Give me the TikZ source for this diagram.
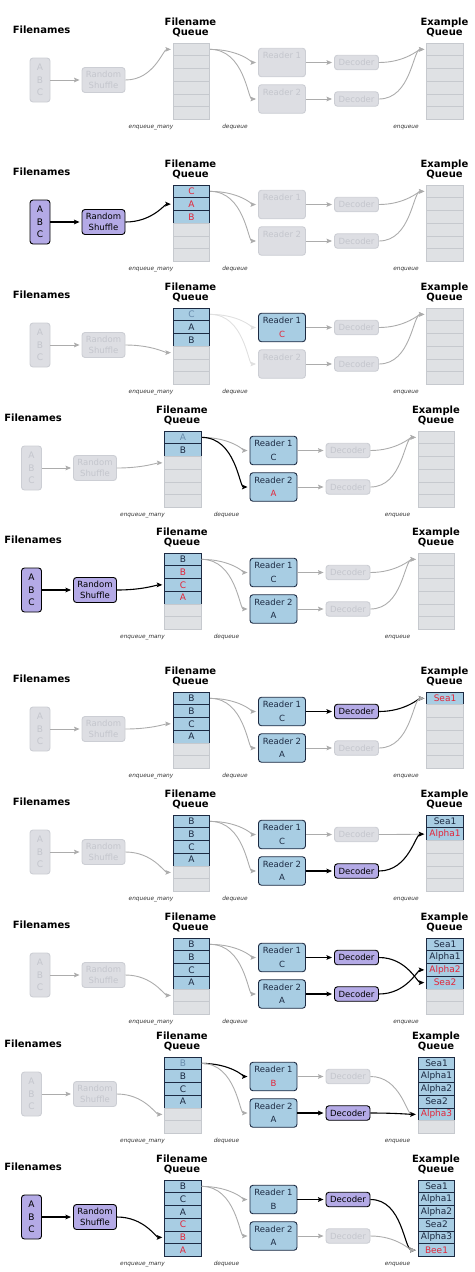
\documentclass[tikz,border=0pt]{standalone}
\usepackage{fontspec}
\setmainfont{DejaVu Sans}
\usetikzlibrary{arrows.meta}

\definecolor{lilacfill}{RGB}{180,170,230}
\definecolor{cellblue}{RGB}{168,205,227}
\definecolor{navy}{RGB}{28,42,66}
\definecolor{hot}{RGB}{226,38,58}
\definecolor{ghostfill}{RGB}{221,222,227}
\definecolor{ghostline}{RGB}{204,206,212}
\definecolor{ghosttext}{RGB}{196,198,205}
\definecolor{blankfill}{RGB}{223,225,228}
\definecolor{blankline}{RGB}{198,201,206}
\definecolor{dimgray}{RGB}{172,172,172}
\definecolor{palegray}{RGB}{224,224,224}
\definecolor{takentext}{RGB}{105,140,172}

\tikzset{
  pbox/.style={rounded corners=3pt, align=center, inner sep=0pt, line width=0.9pt},
  faded/.style={pbox, fill=ghostfill, draw=ghostline, text=ghosttext},
  lilac/.style={pbox, fill=lilacfill, draw=black, text=black},
  reading/.style={pbox, fill=cellblue, draw=navy, text=navy},
  fnbox/.style={minimum width=20pt, minimum height=44pt, font=\fontsize{9}{12.5}\selectfont},
  shufflebox/.style={minimum width=43pt, minimum height=25pt, font=\fontsize{8.5}{10.5}\selectfont},
  readerbox/.style={minimum width=47pt, minimum height=28.5pt, font=\fontsize{8.5}{13.5}\selectfont},
  decoderbox/.style={minimum width=44pt, minimum height=14.5pt, font=\fontsize{8.5}{10}\selectfont},
  % queue cells
  cell/.style={minimum width=36.5pt, minimum height=12.75pt, inner sep=0pt, font=\fontsize{9}{10}\selectfont},
  blank/.style={fill=blankfill, draw=blankline, line width=0.6pt},
  held/.style={fill=cellblue, draw=navy, line width=0.8pt, text=navy},
  fresh/.style={held, text=hot},
  taken/.style={held, text=takentext},
  % titles and op labels
  head/.style={align=center, inner sep=0pt, font=\fontsize{10}{10.5}\selectfont\bfseries},
  oplabel/.style={inner sep=0pt, font=\fontsize{5.8}{6}\selectfont\itshape, text=black!80},
  % connectors
  hotarrow/.style={-{Stealth[length=5.5pt,width=4.6pt,inset=1pt]}, line width=1.1pt, black, shorten >=2pt},
  dimarrow/.style={hotarrow, line width=0.9pt, dimgray},
  ghostarrow/.style={hotarrow, line width=0.9pt, palegray},
}

% the parts every frame shares
\newcommand{\panelheads}{
  \node[head] (t1) at (41.5,13) {Filenames};
  \node[head] (t2) at (190.5,15.5) {Filename\\Queue};
  \node[head] (t3) at (444.5,15.5) {Example\\Queue};
  \node[oplabel] (l1) at (151,-84.3) {enqueue\_many};
  \node[oplabel] (l2) at (235,-84.3) {dequeue};
  \node[oplabel] (l3) at (406,-84.3) {enqueue};
}
\newcommand{\fileq}[1]{\foreach \st/\tx [count=\i] in {#1}
  \node[cell,\st] (q\i) at (191.5,{-6.375-12.75*(\i-1)}) {\tx};}
\newcommand{\exq}[1]{\foreach \st/\tx [count=\i] in {#1}
  \node[cell,\st] (e\i) at (445,{-6.375-12.75*(\i-1)}) {\tx};}

\begin{document}
\begin{tikzpicture}[x=1pt, y=1pt]
  \useasboundingbox (0,0) rectangle (474,-1272);

  % frame 1 -- nothing queued yet
  \begin{scope}[shift={(0,-43)}, name prefix=a-]
    \panelheads
    \node[fnbox, faded] (fn) at (40,-37) {A\\B\\C};
    \node[shufflebox, faded] (shuffle) at (103.5,-37) {Random\\Shuffle};
    \fileq{blank/{},blank/{},blank/{},blank/{},blank/{},blank/{}}
    \node[readerbox, faded] (r1) at (282,-19.5) {Reader 1\\\phantom{C}};
    \node[readerbox, faded] (r2) at (282,-56) {Reader 2\\\phantom{C}};
    \node[decoderbox, faded] (d1) at (356.5,-19.5) {Decoder};
    \node[decoderbox, faded] (d2) at (356.5,-56) {Decoder};
    \exq{blank/{},blank/{},blank/{},blank/{},blank/{},blank/{}}
    \draw[dimarrow] (fn) -- (shuffle);
    \draw[dimarrow] (shuffle) to[out=0,in=180] (q1);
    \draw[dimarrow] (q1) to[out=0,in=180] (r1);
    \draw[dimarrow] (q1) to[out=0,in=180] (r2);
    \draw[dimarrow] (r1) -- (d1);
    \draw[dimarrow] (r2) -- (d2);
    \draw[dimarrow] (d1) to[out=0,in=180] (e1);
    \draw[dimarrow] (d2) to[out=0,in=180] (e1);
  \end{scope}

  % frame 2 -- shuffled filenames enqueued
  \begin{scope}[shift={(0,-185)}, name prefix=b-]
    \panelheads
    \node[fnbox, lilac] (fn) at (40,-37) {A\\B\\C};
    \node[shufflebox, lilac] (shuffle) at (103.5,-37) {Random\\Shuffle};
    \fileq{fresh/C,fresh/A,fresh/B,blank/{},blank/{},blank/{}}
    \node[readerbox, faded] (r1) at (282,-19.5) {Reader 1\\\phantom{C}};
    \node[readerbox, faded] (r2) at (282,-56) {Reader 2\\\phantom{C}};
    \node[decoderbox, faded] (d1) at (356.5,-19.5) {Decoder};
    \node[decoderbox, faded] (d2) at (356.5,-56) {Decoder};
    \exq{blank/{},blank/{},blank/{},blank/{},blank/{},blank/{}}
    \draw[hotarrow] (fn) -- (shuffle);
    \draw[hotarrow] (shuffle) to[out=0,in=180] (q2);
    \draw[dimarrow] (q1) to[out=0,in=180] (r1);
    \draw[dimarrow] (q1) to[out=0,in=180] (r2);
    \draw[dimarrow] (r1) -- (d1);
    \draw[dimarrow] (r2) -- (d2);
    \draw[dimarrow] (d1) to[out=0,in=180] (e1);
    \draw[dimarrow] (d2) to[out=0,in=180] (e1);
  \end{scope}

  % frame 3 -- reader 1 takes C
  \begin{scope}[shift={(0,-308)}, name prefix=c-]
    \panelheads
    \node[fnbox, faded] (fn) at (40,-37) {A\\B\\C};
    \node[shufflebox, faded] (shuffle) at (103.5,-37) {Random\\Shuffle};
    \fileq{taken/C,held/A,held/B,blank/{},blank/{},blank/{}}
    \node[readerbox, reading] (r1) at (282,-19.5) {Reader 1\\\textcolor{hot}{C}};
    \node[readerbox, faded] (r2) at (282,-56) {Reader 2\\\phantom{C}};
    \node[decoderbox, faded] (d1) at (356.5,-19.5) {Decoder};
    \node[decoderbox, faded] (d2) at (356.5,-56) {Decoder};
    \exq{blank/{},blank/{},blank/{},blank/{},blank/{},blank/{}}
    \draw[dimarrow] (fn) -- (shuffle);
    \draw[dimarrow] (shuffle) to[out=0,in=180] (q4);
    \draw[ghostarrow] (q1) to[out=0,in=180] (r1);
    \draw[ghostarrow] (q1) to[out=0,in=180] (r2);
    \draw[dimarrow] (r1) -- (d1);
    \draw[dimarrow] (r2) -- (d2);
    \draw[dimarrow] (d1) to[out=0,in=180] (e1);
    \draw[dimarrow] (d2) to[out=0,in=180] (e1);
  \end{scope}

  % frame 4 -- reader 2 takes A
  \begin{scope}[shift={(-8.5,-431)}, name prefix=d-]
    \panelheads
    \node[fnbox, faded] (fn) at (40,-37) {A\\B\\C};
    \node[shufflebox, faded] (shuffle) at (103.5,-37) {Random\\Shuffle};
    \fileq{taken/A,held/B,blank/{},blank/{},blank/{},blank/{}}
    \node[readerbox, reading] (r1) at (282,-19.5) {Reader 1\\C};
    \node[readerbox, reading] (r2) at (282,-56) {Reader 2\\\textcolor{hot}{A}};
    \node[decoderbox, faded] (d1) at (356.5,-19.5) {Decoder};
    \node[decoderbox, faded] (d2) at (356.5,-56) {Decoder};
    \exq{blank/{},blank/{},blank/{},blank/{},blank/{},blank/{}}
    \draw[dimarrow] (fn) -- (shuffle);
    \draw[dimarrow] (shuffle) to[out=0,in=180] (q3);
    \draw[dimarrow] (q1) to[out=0,in=180] (r1);
    \draw[hotarrow] (q1) to[out=0,in=180] (r2);
    \draw[dimarrow] (r1) -- (d1);
    \draw[dimarrow] (r2) -- (d2);
    \draw[dimarrow] (d1) to[out=0,in=180] (e1);
    \draw[dimarrow] (d2) to[out=0,in=180] (e1);
  \end{scope}

  % frame 5 -- next epoch enqueued
  \begin{scope}[shift={(-8.5,-553)}, name prefix=e-]
    \panelheads
    \node[fnbox, lilac] (fn) at (40,-37) {A\\B\\C};
    \node[shufflebox, lilac] (shuffle) at (103.5,-37) {Random\\Shuffle};
    \fileq{held/B,fresh/B,fresh/C,fresh/A,blank/{},blank/{}}
    \node[readerbox, reading] (r1) at (282,-19.5) {Reader 1\\C};
    \node[readerbox, reading] (r2) at (282,-56) {Reader 2\\A};
    \node[decoderbox, faded] (d1) at (356.5,-19.5) {Decoder};
    \node[decoderbox, faded] (d2) at (356.5,-56) {Decoder};
    \exq{blank/{},blank/{},blank/{},blank/{},blank/{},blank/{}}
    \draw[hotarrow] (fn) -- (shuffle);
    \draw[hotarrow] (shuffle) to[out=0,in=180] (q3);
    \draw[dimarrow] (q1) to[out=0,in=180] (r1);
    \draw[dimarrow] (q1) to[out=0,in=180] (r2);
    \draw[dimarrow] (r1) -- (d1);
    \draw[dimarrow] (r2) -- (d2);
    \draw[dimarrow] (d1) to[out=0,in=180] (e1);
    \draw[dimarrow] (d2) to[out=0,in=180] (e1);
  \end{scope}

  % frame 6 -- first example decoded
  \begin{scope}[shift={(0,-692)}, name prefix=f-]
    \panelheads
    \node[fnbox, faded] (fn) at (40,-37) {A\\B\\C};
    \node[shufflebox, faded] (shuffle) at (103.5,-37) {Random\\Shuffle};
    \fileq{held/B,held/B,held/C,held/A,blank/{},blank/{}}
    \node[readerbox, reading] (r1) at (282,-19.5) {Reader 1\\C};
    \node[readerbox, reading] (r2) at (282,-56) {Reader 2\\A};
    \node[decoderbox, lilac] (d1) at (356.5,-19.5) {Decoder};
    \node[decoderbox, faded] (d2) at (356.5,-56) {Decoder};
    \exq{fresh/Sea1,blank/{},blank/{},blank/{},blank/{},blank/{}}
    \draw[dimarrow] (fn) -- (shuffle);
    \draw[dimarrow] (shuffle) to[out=0,in=180] (q3);
    \draw[dimarrow] (q1) to[out=0,in=180] (r1);
    \draw[dimarrow] (q1) to[out=0,in=180] (r2);
    \draw[hotarrow] (r1) -- (d1);
    \draw[dimarrow] (r2) -- (d2);
    \draw[hotarrow] (d1) to[out=0,in=180] (e1);
    \draw[dimarrow] (d2) to[out=0,in=180] (e1);
  \end{scope}

  % frame 7
  \begin{scope}[shift={(0,-815)}, name prefix=g-]
    \panelheads
    \node[fnbox, faded] (fn) at (40,-37) {A\\B\\C};
    \node[shufflebox, faded] (shuffle) at (103.5,-37) {Random\\Shuffle};
    \fileq{held/B,held/B,held/C,held/A,blank/{},blank/{}}
    \node[readerbox, reading] (r1) at (282,-19.5) {Reader 1\\C};
    \node[readerbox, reading] (r2) at (282,-56) {Reader 2\\A};
    \node[decoderbox, faded] (d1) at (356.5,-19.5) {Decoder};
    \node[decoderbox, lilac] (d2) at (356.5,-56) {Decoder};
    \exq{held/Sea1,fresh/Alpha1,blank/{},blank/{},blank/{},blank/{}}
    \draw[dimarrow] (fn) -- (shuffle);
    \draw[dimarrow] (shuffle) to[out=0,in=180] (q5);
    \draw[dimarrow] (q1) to[out=0,in=180] (r1);
    \draw[dimarrow] (q1) to[out=0,in=180] (r2);
    \draw[dimarrow] (r1) -- (d1);
    \draw[hotarrow] (r2) -- (d2);
    \draw[dimarrow] (d1) to[out=0,in=180] (e2);
    \draw[hotarrow] (d2) to[out=0,in=180] (e2);
  \end{scope}

  % frame 8 -- both decoders at work
  \begin{scope}[shift={(0,-938)}, name prefix=h-]
    \panelheads
    \node[fnbox, faded] (fn) at (40,-37) {A\\B\\C};
    \node[shufflebox, faded] (shuffle) at (103.5,-37) {Random\\Shuffle};
    \fileq{held/B,held/B,held/C,held/A,blank/{},blank/{}}
    \node[readerbox, reading] (r1) at (282,-19.5) {Reader 1\\C};
    \node[readerbox, reading] (r2) at (282,-56) {Reader 2\\A};
    \node[decoderbox, lilac] (d1) at (356.5,-19.5) {Decoder};
    \node[decoderbox, lilac] (d2) at (356.5,-56) {Decoder};
    \exq{held/Sea1,held/Alpha1,fresh/Alpha2,fresh/Sea2,blank/{},blank/{}}
    \draw[dimarrow] (fn) -- (shuffle);
    \draw[dimarrow] (shuffle) to[out=0,in=180] (q5);
    \draw[dimarrow] (q1) to[out=0,in=180] (r1);
    \draw[dimarrow] (q1) to[out=0,in=180] (r2);
    \draw[hotarrow] (r1) -- (d1);
    \draw[hotarrow] (r2) -- (d2);
    \draw[hotarrow] (d1) to[out=0,in=180] (e4);
    \draw[hotarrow] (d2) to[out=0,in=180] (e3);
  \end{scope}

  % frame 9 -- reader 1 takes B
  \begin{scope}[shift={(-8.5,-1057)}, name prefix=i-]
    \panelheads
    \node[fnbox, faded] (fn) at (40,-37) {A\\B\\C};
    \node[shufflebox, faded] (shuffle) at (103.5,-37) {Random\\Shuffle};
    \fileq{taken/B,held/B,held/C,held/A,blank/{},blank/{}}
    \node[readerbox, reading] (r1) at (282,-19.5) {Reader 1\\\textcolor{hot}{B}};
    \node[readerbox, reading] (r2) at (282,-56) {Reader 2\\A};
    \node[decoderbox, faded] (d1) at (356.5,-19.5) {Decoder};
    \node[decoderbox, lilac] (d2) at (356.5,-56) {Decoder};
    \exq{held/Sea1,held/Alpha1,held/Alpha2,held/Sea2,fresh/Alpha3,blank/{}}
    \draw[dimarrow] (fn) -- (shuffle);
    \draw[dimarrow] (shuffle) to[out=0,in=180] (q5);
    \draw[hotarrow] (q1) to[out=0,in=180] (r1);
    \draw[dimarrow] (q1) to[out=0,in=180] (r2);
    \draw[dimarrow] (r1) -- (d1);
    \draw[hotarrow] (r2) -- (d2);
    \draw[dimarrow] (d1) to[out=0,in=180] (e5);
    \draw[hotarrow] (d2) to[out=0,in=180] (e5);
  \end{scope}

  % frame 10 -- queue refilled, Bee1 out
  \begin{scope}[shift={(-8.5,-1180)}, name prefix=j-]
    \panelheads
    \node[fnbox, lilac] (fn) at (40,-37) {A\\B\\C};
    \node[shufflebox, lilac] (shuffle) at (103.5,-37) {Random\\Shuffle};
    \fileq{held/B,held/C,held/A,fresh/C,fresh/B,fresh/A}
    \node[readerbox, reading] (r1) at (282,-19.5) {Reader 1\\B};
    \node[readerbox, reading] (r2) at (282,-56) {Reader 2\\A};
    \node[decoderbox, lilac] (d1) at (356.5,-19.5) {Decoder};
    \node[decoderbox, faded] (d2) at (356.5,-56) {Decoder};
    \exq{held/Sea1,held/Alpha1,held/Alpha2,held/Sea2,held/Alpha3,fresh/Bee1}
    \draw[hotarrow] (fn) -- (shuffle);
    \draw[hotarrow] (shuffle) to[out=0,in=180] (q5);
    \draw[dimarrow] (q1) to[out=0,in=180] (r1);
    \draw[dimarrow] (q1) to[out=0,in=180] (r2);
    \draw[hotarrow] (r1) -- (d1);
    \draw[dimarrow] (r2) -- (d2);
    \draw[hotarrow] (d1) to[out=0,in=180] (e6);
    \draw[dimarrow] (d2) to[out=0,in=180] (e6);
  \end{scope}

\end{tikzpicture}
\end{document}
